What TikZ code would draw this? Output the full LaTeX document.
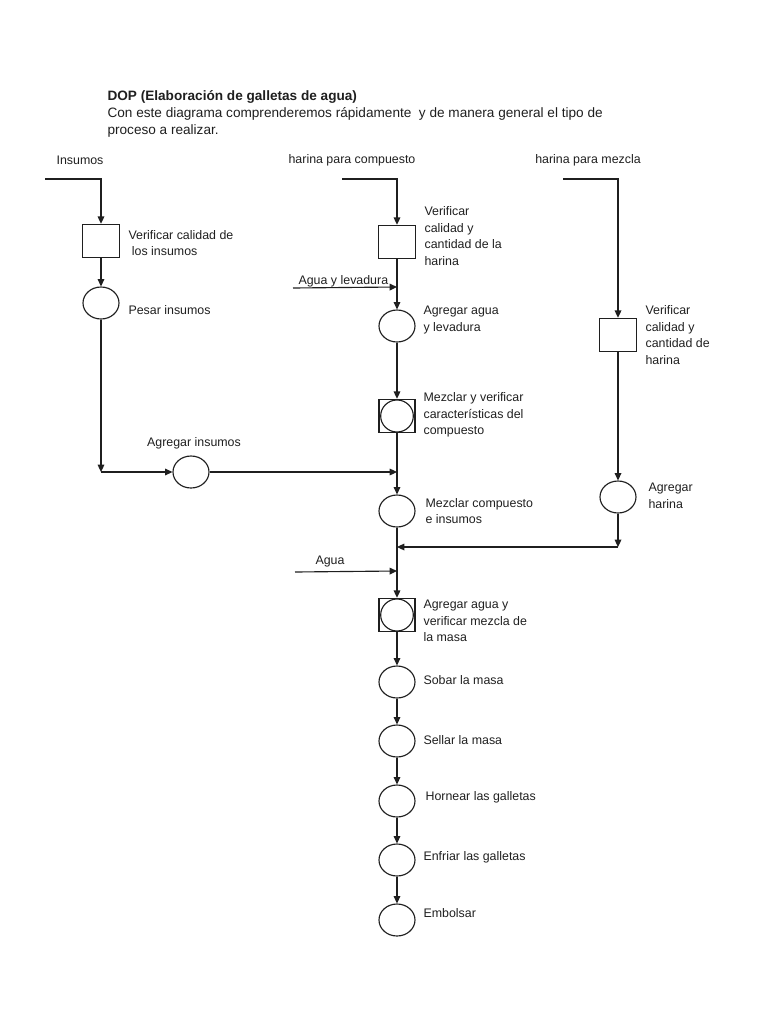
\documentclass[tikz,border=0pt]{standalone}
\usepackage{fontspec}
\setmainfont{Liberation Sans}
\usetikzlibrary{arrows.meta,shapes.geometric}
\begin{document}
\begin{tikzpicture}[x=0.75pt,y=-0.75pt,
  line width=0.85pt, color=black!88,
  arr/.style={-{Triangle[length=5.5pt,width=5pt]}},
  box/.style={draw,rectangle,minimum width=27.5pt,minimum height=25pt,inner sep=0pt},
  op/.style={draw,ellipse,minimum width=27pt,minimum height=24pt,inner sep=0pt},
  lbl/.style={anchor=west,align=left,inner sep=0pt,font=\fontsize{9.3}{12.5}\selectfont},
  ctr/.style={inner sep=0pt,font=\fontsize{9.3}{12.5}\selectfont},
  ]
\useasboundingbox (0,0) rectangle (768,1024);

% title
\node[anchor=west,align=left,inner sep=0pt,font=\fontsize{10.2}{12.75}\selectfont] (title) at (107,114)
  {\textbf{DOP (Elaboración de galletas de agua)}\\Con este diagrama comprenderemos rápidamente \ y de manera general el tipo de\\proceso a realizar.};

% top labels
\node[ctr] (tin) at (80,160) {Insumos};
\node[ctr] (thc) at (352,160) {harina para compuesto};
\node[ctr] (thm) at (588,160) {harina para mezcla};

% left column
\node[box] (b1) at (101,241) {};
\node[lbl] (lb1) at (128,243) {Verificar calidad de\\\hspace*{2.5pt}los insumos};
\node[op] (c1) at (101,303) {};
\node[lbl] (lc1) at (128,310) {Pesar insumos};
\node[op] (e1) at (191,472) {};
\node[ctr] (le1) at (194,443) {Agregar insumos};

% middle column
\node[box] (b2) at (397,242) {};
\node[lbl] (lb2) at (424,236) {Verificar\\calidad y\\cantidad de la\\harina};
\node[op] (c2) at (397,326) {};
\node[lbl] (lc2) at (423,320) {Agregar agua\\y levadura};
\node[box,minimum width=27pt,minimum height=25pt] (m3) at (397,416) {};
\node[op,minimum width=24.5pt,minimum height=24pt] (m3c) at (397,416) {};
\node[lbl] (lm3) at (423,415) {Mezclar y verificar\\características del\\compuesto};
\node[op] (c4) at (397,511) {};
\node[lbl] (lc4) at (425,511) {Mezclar compuesto\\e insumos};
\node[box,minimum width=27pt,minimum height=25pt] (m5) at (397,615) {};
\node[op,minimum width=24.5pt,minimum height=24pt] (m5c) at (397,615) {};
\node[lbl] (lm5) at (423,621) {Agregar agua y\\verificar mezcla de\\la masa};
\node[op] (c6) at (397,682) {};
\node[lbl] (lc6) at (423,680) {Sobar la masa};
\node[op] (c7) at (397,741) {};
\node[lbl] (lc7) at (423,740) {Sellar la masa};
\node[op] (c8) at (397,801) {};
\node[lbl] (lc8) at (425,797) {Hornear las galletas};
\node[op] (c9) at (397,860) {};
\node[lbl] (lc9) at (423,857) {Enfriar las galletas};
\node[op] (c10) at (397,920) {};
\node[lbl] (lc10) at (423,913) {Embolsar};

% right column
\node[box] (b3) at (618,335) {};
\node[lbl] (lb3) at (645,335) {Verificar\\calidad y\\cantidad de\\harina};
\node[op] (c3) at (618,497) {};
\node[lbl] (lc3) at (648,496) {Agregar\\harina};

% input labels
\node[anchor=west,inner sep=0pt,font=\fontsize{9.3}{12.5}\selectfont] (lal) at (298,281) {Agua y levadura};
\node[ctr] (lag) at (330,562) {Agua};

% coordinates
\coordinate (i0) at (45,179);
\coordinate (i1) at (101,179);
\coordinate (h0) at (342,179);
\coordinate (h1) at (397,179);
\coordinate (r0) at (563,179);
\coordinate (r1) at (618,179);
\coordinate (j1) at (101,472);
\coordinate (j2) at (397,472);
\coordinate (a0) at (293,288);
\coordinate (ja) at (397,287);
\coordinate (jr2) at (618,547);
\coordinate (jr) at (397,547);
\coordinate (w0) at (295,572);
\coordinate (jw) at (397,571);

% connectors left
\draw[arr] (i0) -- (i1) -- (b1.north);
\draw[arr] (b1) -- (c1);
\draw[arr] (c1) -- (j1);
\draw[arr] (j1) -- (e1);
\draw[arr] (e1) -- (j2);

% connectors middle
\draw[arr] (h0) -- (h1) -- (b2.north);
\draw[arr] (b2) -- (c2);
\draw[arr] (a0) -- (ja);
\draw[arr] (c2) -- (m3);
\draw[arr] (m3) -- (c4);
\draw[arr] (c4) -- (m5);
\draw[arr] (w0) -- (jw);
\draw[arr] (m5) -- (c6);
\draw[arr] (c6) -- (c7);
\draw[arr] (c7) -- (c8);
\draw[arr] (c8) -- (c9);
\draw[arr] (c9) -- (c10);

% connectors right
\draw[arr] (r0) -- (r1) -- (b3.north);
\draw[arr] (b3) -- (c3);
\draw[arr] (c3) -- (jr2);
\draw[arr] (jr2) -- (jr);
\end{tikzpicture}
\end{document}
